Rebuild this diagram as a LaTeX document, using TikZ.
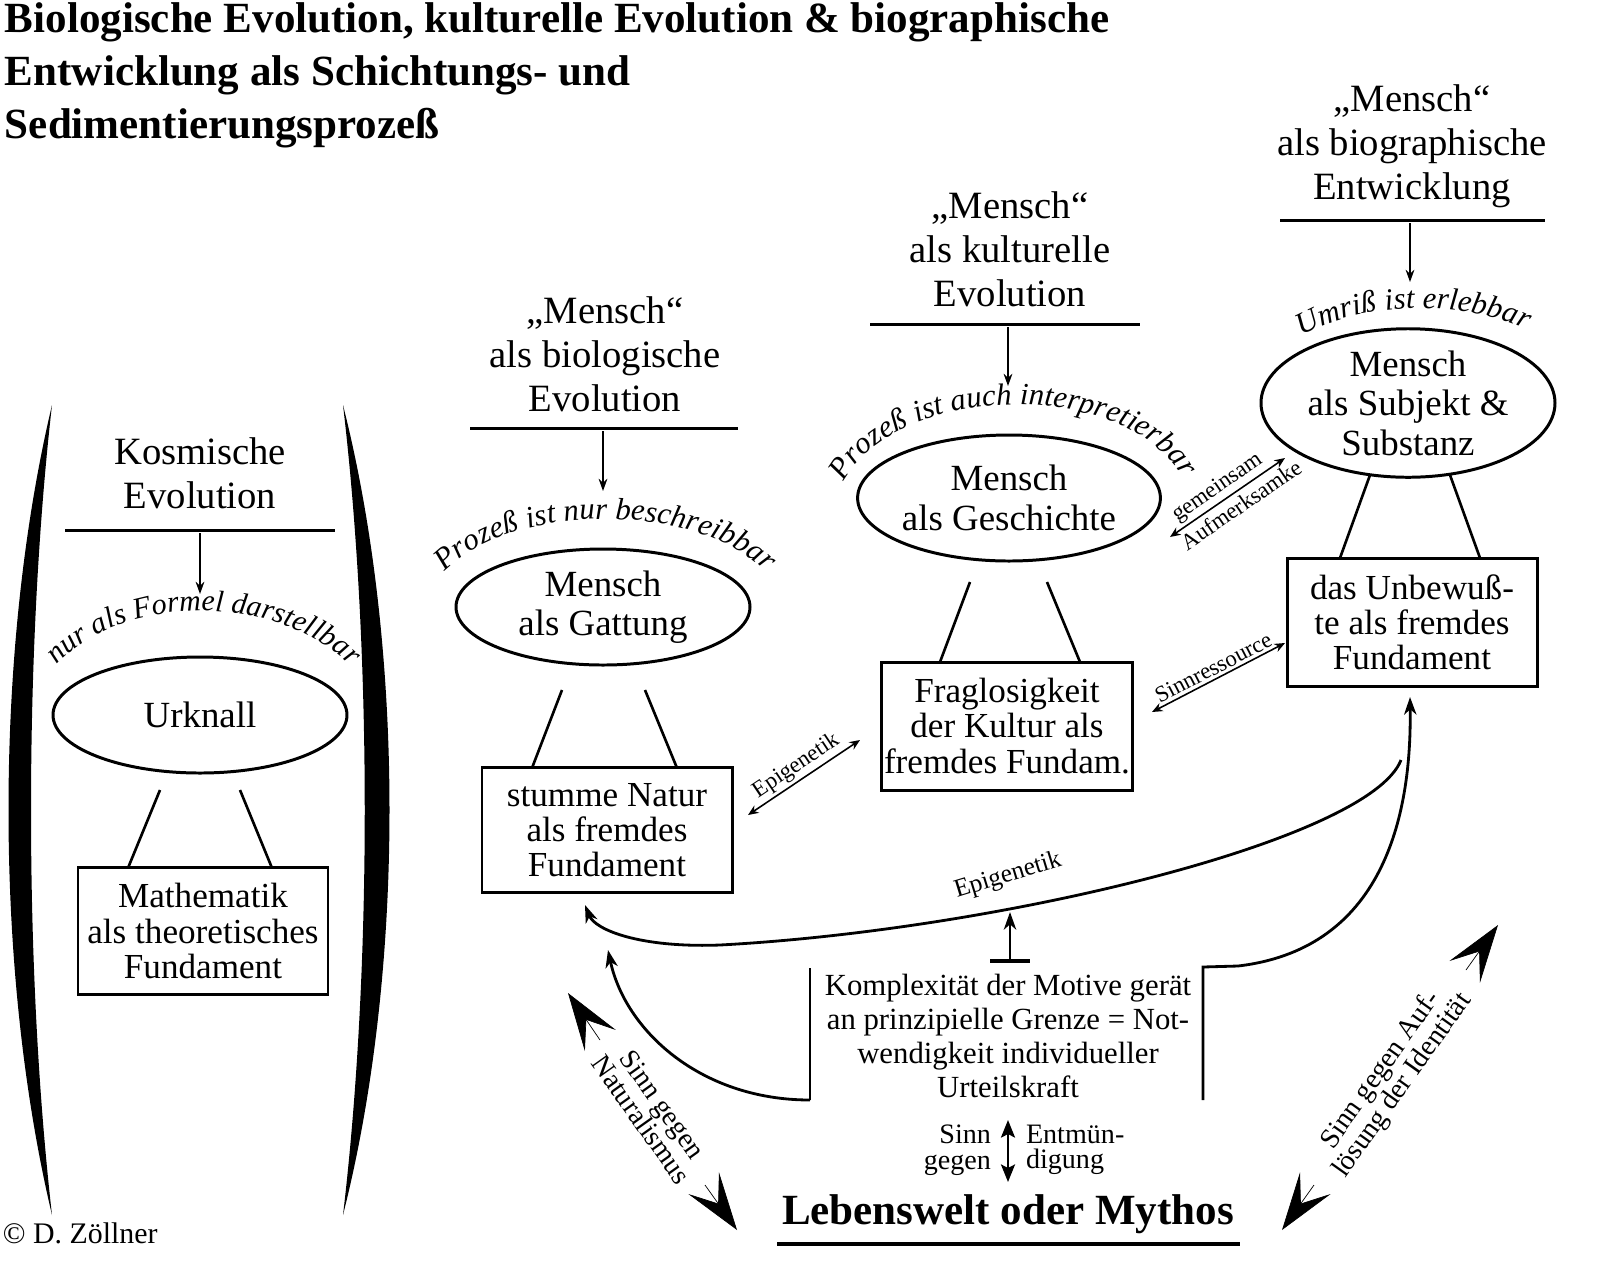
\documentclass[tikz,border=0pt]{standalone}
\usepackage{fontspec}
\setmainfont{Liberation Serif}
\usetikzlibrary{arrows.meta,decorations.text,shapes.geometric}
\begin{document}
\begin{tikzpicture}[x=0.02cm,y=-0.02cm,
  every node/.style={inner sep=0pt,outer sep=0pt},
  head/.style={align=center,font=\fontsize{22}{25}\selectfont},
  ell/.style={draw,line width=1.7pt,ellipse,minimum width=294*0.02cm,align=center,font=\fontsize{21}{22.5}\selectfont},
  box/.style={draw,line width=1.7pt,align=center,font=\fontsize{20}{20}\selectfont},
  bar/.style={line width=1.7pt},
  leg/.style={line width=1.5pt},
  thin/.style={line width=0.9pt,-{Stealth[length=7pt,width=5pt]}},
  dbl/.style={line width=0.9pt,{Stealth[length=6pt,width=5pt]}-{Stealth[length=6pt,width=5pt]}},
  small/.style={font=\fontsize{13}{15}\selectfont},
  curve/.style={line width=1.6pt,-{Stealth[length=10pt,width=7pt,inset=3pt]}},
  big/.style={line width=0.4pt,-{Stealth[length=1.15cm,width=0.75cm,inset=0.5cm]}},
  arctext/.style={decorate,decoration={text along path,text align=center,raise=1pt}}
]
\useasboundingbox (0,0) rectangle (1600,1279);
% title
\node[anchor=west,font=\bfseries\fontsize{24.5}{30}\selectfont] (t1) at (5,22) {Biologische Evolution, kulturelle Evolution \& biographische};
\node[anchor=west,font=\bfseries\fontsize{24.5}{30}\selectfont] (t2) at (5,75) {Entwicklung als Schichtungs- und};
\node[anchor=west,font=\bfseries\fontsize{24.5}{30}\selectfont] (t3) at (5,128) {Sedimentierungsprozeß};
% parentheses
\fill (52,405) .. controls (-6,650) and (-6,970) .. (52,1215) .. controls (24,970) and (24,650) .. (52,405);
\fill (343,405) .. controls (405,650) and (405,970) .. (343,1215) .. controls (372,970) and (372,650) .. (343,405);
% kosmisch
\node[head] (hk) at (200,473) {Kosmische\\Evolution};
\coordinate (lk1) at (65,530); \coordinate (lk2) at (335,530);
\draw[bar] (lk1) -- (lk2);
\coordinate (ak1) at (200,533); \coordinate (ak2) at (200,594);
\draw[thin] (ak1) -- (ak2);
\path[arctext,decoration={text={|\itshape\fontsize{17}{20}\selectfont|nur als Formel darstellbar}}] (38,692) .. controls (100,586) and (300,586) .. (370,692);
\node[ell,minimum height=116*0.02cm] (ek) at (200,715) {Urknall};
\node[box,minimum width=250*0.02cm,minimum height=127*0.02cm] (bk) at (203,931) {Mathematik\\als theoretisches\\Fundament};
\draw[leg] (160,790) -- (128,868);
\draw[leg] (240,790) -- (272,868);
% biologisch
\node[head] (hb) at (605,354) {„Mensch“\\als biologische\\Evolution};
\draw[bar] (470,428) -- (738,428);
\draw[thin] (603,431) -- (603,491);
\path[arctext,decoration={text={|\itshape\fontsize{17.5}{20}\selectfont|Prozeß ist nur beschreibbar}}] (428,598) .. controls (478,495) and (732,495) .. (782,598);
\node[ell,minimum height=116*0.02cm] (eb) at (603,607) {Mensch\\als Gattung};
\node[box,minimum width=250*0.02cm,minimum height=125*0.02cm] (bb) at (607,830) {stumme Natur\\als fremdes\\Fundament};
\draw[leg] (562,690) -- (532,768);
\draw[leg] (645,690) -- (677,768);
% kulturell
\node[head] (hc) at (1010,249) {„Mensch“\\als kulturelle\\Evolution};
\draw[bar] (870,324) -- (1140,324);
\draw[thin] (1008,327) -- (1008,386);
\path[arctext,decoration={text={|\itshape\fontsize{17.5}{20}\selectfont|Prozeß ist auch interpretierbar}}] (840,494) .. controls (885,378) and (1145,378) .. (1186,490);
\node[ell,minimum height=126*0.02cm] (ec) at (1009,498) {Mensch\\als Geschichte};
\node[box,minimum width=251*0.02cm,minimum height=128*0.02cm] (bc) at (1007,726) {Fraglosigkeit\\der Kultur als\\fremdes Fundam.};
\draw[leg] (970,582) -- (940,662);
\draw[leg] (1047,582) -- (1080,662);
% biographisch
\node[head] (hg) at (1412,146) {„Mensch“\\als biographische\\Entwicklung};
\draw[bar] (1280,220) -- (1545,220);
\draw[thin] (1410,223) -- (1410,282);
\path[arctext,decoration={text={|\itshape\fontsize{17.5}{20}\selectfont|Umriß ist erlebbar}}] (1288,347) .. controls (1350,300) and (1480,298) .. (1540,340);
\node[ell,minimum height=136*0.02cm] (eg) at (1408,403) {Mensch\\als Subjekt \&\\Substanz};
\node[box,minimum width=250*0.02cm,minimum height=128*0.02cm] (bg) at (1412,622) {das Unbewuß-\\te als fremdes\\Fundament};
\draw[leg] (1370,475) -- (1340,558);
\draw[leg] (1450,475) -- (1480,558);
% double arrows
\coordinate (d1a) at (748,815); \coordinate (d1b) at (860,740);
\draw[dbl] (d1a) -- node[small,sloped,above=2pt] {Epigenetik} (d1b);
\coordinate (d2a) at (1170,537); \coordinate (d2b) at (1285,458);
\draw[dbl] (d2a) -- node[small,sloped,above=2pt,pos=0.48] {gemeinsam} node[small,sloped,below=3pt,pos=0.55] {Aufmerksamke} (d2b);
\coordinate (d3a) at (1152,712); \coordinate (d3b) at (1285,643);
\draw[dbl] (d3a) -- node[small,sloped,above=2pt] {Sinnressource} (d3b);
% central text
\node[align=center,font=\fontsize{17.5}{19.3}\selectfont] (kx) at (1008,1036) {Komplexität der Motive gerät\\an prinzipielle Grenze = Not-\\wendigkeit individueller\\Urteilskraft};
\coordinate (kl1) at (810,968); \coordinate (kl2) at (810,1100);
\coordinate (kr1) at (1203,967); \coordinate (kr2) at (1203,1100);
\draw[line width=1.6pt] (kl1) -- (kl2);
\draw[line width=1.6pt] (kr2) -- (kr1) -- (1238,966);
% curves
\coordinate (arrR) at (1410,697);
\coordinate (arrL) at (585,905);
\draw[curve] (1238,966) .. controls (1375,950) and (1412,830) .. (arrR);
\draw[curve] (1401,760) .. controls (1370,840) and (1000,930) .. (720,945) .. controls (640,948) and (595,930) .. (arrL);
\node[font=\fontsize{14.5}{16}\selectfont,rotate=17] (ep) at (1008,876) {Epigenetik};
\draw[curve] (kl2) .. controls (700,1100) and (625,1030) .. (608,950);
% T arrow
\draw[line width=1.8pt] (990,961) -- (1030,961);
\draw[line width=1.6pt,-{Stealth[length=10pt,width=7pt,inset=3pt]}] (1010,961) -- (1010,912);
% Sinn gegen
\coordinate (sv1) at (1008,1120); \coordinate (sv2) at (1008,1182);
\draw[line width=1.2pt,{Stealth[length=10pt,width=8pt,inset=2pt]}-{Stealth[length=10pt,width=8pt,inset=2pt]}] (sv1) -- (sv2);
\node[anchor=east,align=right,font=\fontsize{16}{14.5}\selectfont] (sg) at (991,1150) {Sinn\\gegen};
\node[anchor=west,align=left,font=\fontsize{16}{14.5}\selectfont] (en) at (1026,1150) {Entmün-\\digung};
% Lebenswelt
\node[font=\bfseries\fontsize{24.5}{28}\selectfont] (lw) at (1008,1214) {Lebenswelt oder Mythos};
\draw[line width=1.9pt] (777,1244) -- (1240,1244);
% big diagonal arrowheads
\draw[big] (600,1040) -- (568,993);
\draw[big] (705,1185) -- (737,1230);
\node[align=center,font=\fontsize{16}{15}\selectfont,rotate=-54.6] (sn) at (652,1112) {Sinn gegen\\Naturalismus};
\draw[big] (1466,970) -- (1498,925);
\draw[big] (1314,1185) -- (1282,1230);
\node[align=center,font=\fontsize{16}{15}\selectfont,rotate=54.6] (sa) at (1392,1078) {Sinn gegen Auf-\\lösung der Identität};
% copyright
\node[anchor=west,font=\fontsize{17}{19}\selectfont] (cp) at (3,1233) {© D. Zöllner};
\end{tikzpicture}
\end{document}
